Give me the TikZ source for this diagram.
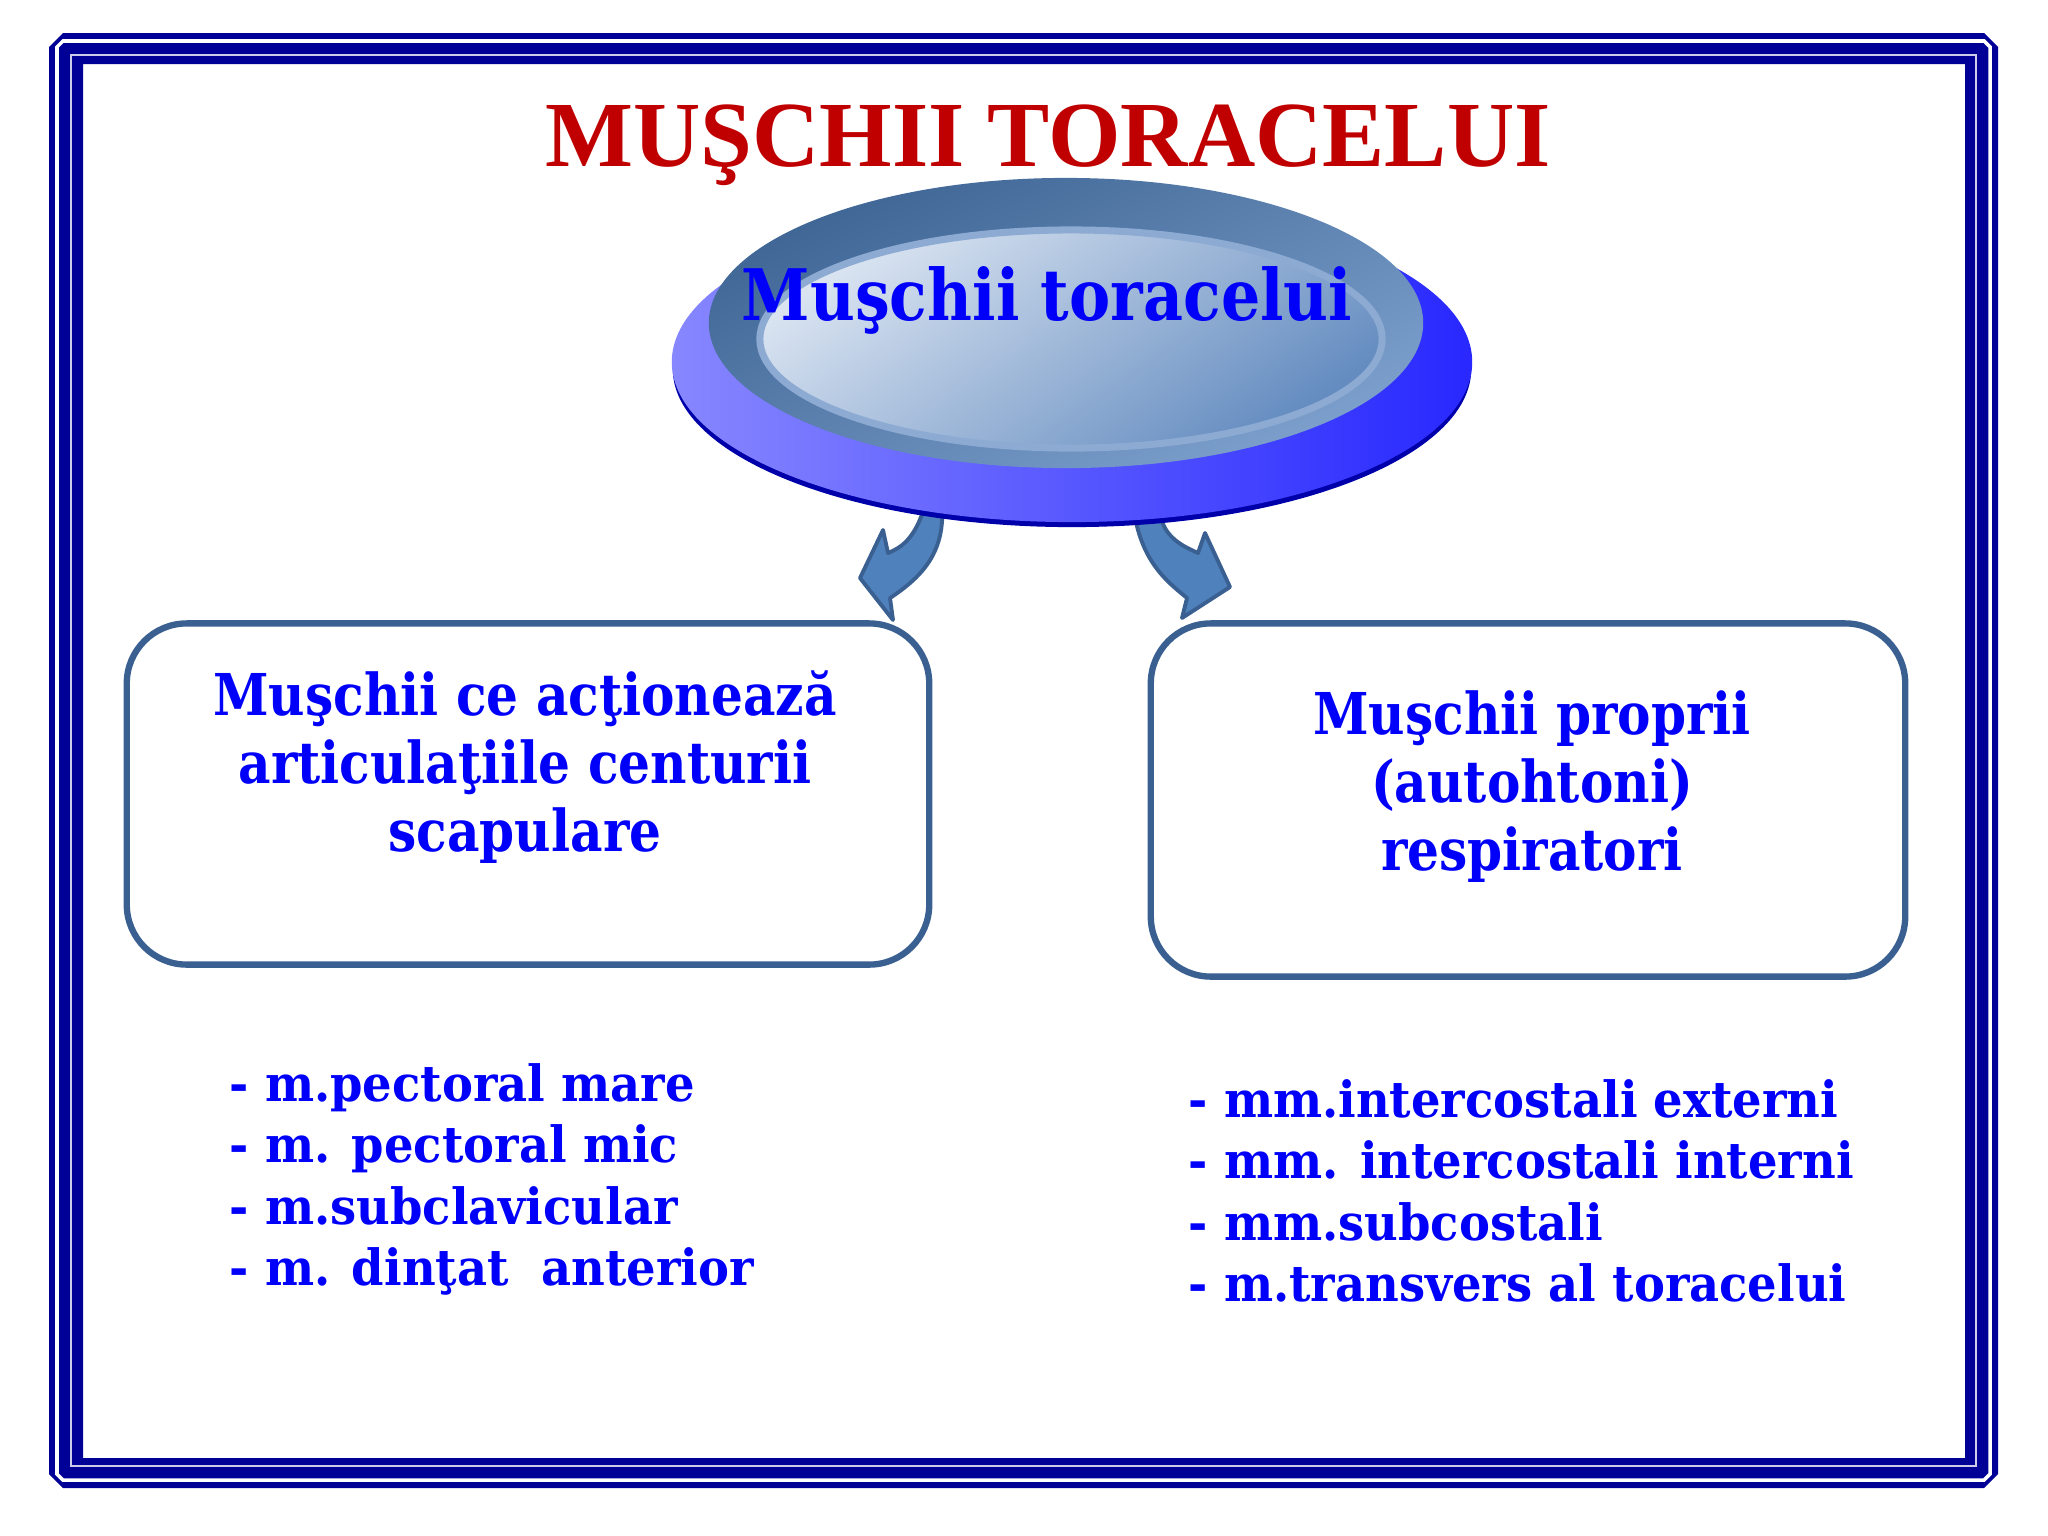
\documentclass[tikz,border=0pt]{standalone}
\usepackage{fontspec}
\setmainfont{DejaVu Serif}
\newfontfamily\titlefont{Liberation Serif}
\newfontfamily\headfont{DejaVu Serif}[FakeStretch=0.87]
\newfontfamily\listfont{DejaVu Serif}[FakeStretch=0.93]
\usetikzlibrary{shapes.geometric}

\definecolor{navy}{RGB}{0,0,150}
\definecolor{titlered}{RGB}{192,0,0}
\definecolor{textblue}{RGB}{0,0,250}
\definecolor{boxline}{RGB}{58,95,145}
\definecolor{arrowfill}{RGB}{79,129,189}
\definecolor{rimblue}{RGB}{0,0,170}
\definecolor{discleft}{RGB}{135,135,255}
\definecolor{discright}{RGB}{40,40,255}
\definecolor{rimtop}{RGB}{62,101,148}
\definecolor{rimbottom}{RGB}{125,160,205}
\definecolor{innerlight}{RGB}{218,228,241}
\definecolor{innerdark}{RGB}{100,140,192}
\definecolor{ringlight}{RGB}{140,170,210}

\begin{document}
\begin{tikzpicture}[x=0.01cm, y=-0.01cm,
    box/.style={draw=boxline, line width=1.8pt, rounded corners=0.6cm, fill=white},
    boxtext/.style={text=textblue, align=center, inner sep=0pt,
      font=\headfont\bfseries\fontsize{16.4pt}{19.35pt}\selectfont},
    listtext/.style={text=textblue, align=left, inner sep=0pt, anchor=north west,
      font=\listfont\bfseries\fontsize{14.2pt}{17.4pt}\selectfont},
    bendarrow/.style={fill=arrowfill, draw=boxline, line width=1.1pt, line join=round}]
      \useasboundingbox (0,0) rectangle (2048,1536);
      % double frame
      \fill[navy, even odd rule] (63,33) -- (1984,33) -- (1998,47) -- (1998,1474) -- (1984,1488)
            -- (63,1488) -- (49,1474) -- (49,47) -- cycle (83,64) rectangle (1965,1458);
      \draw[white, line width=1pt] (63,41) -- (1984,41) -- (1990,47) -- (1990,1474) -- (1984,1480)
            -- (63,1480) -- (57,1474) -- (57,47) -- cycle;
      \draw[white!80!navy, line width=0.6pt] (71,55) rectangle (1976,1466);

      \node[text=titlered, anchor=base, font=\titlefont\bfseries\fontsize{26.5pt}{30pt}\selectfont]
            (title) at (1048,166) {MUŞCHII TORACELUI};

      % curved arrows behind the disc
      \draw[bendarrow] (925,505) .. controls (915,540) and (900,548) .. (888,553) -- (883,530)
            -- (860,578) -- (893,620) -- (890,598) .. controls (925,575) and (945,550) .. (942,505) -- cycle;
      \draw[bendarrow] (1133,505) .. controls (1140,560) and (1165,580) .. (1187,598) -- (1182,618)
            -- (1230,587) -- (1205,533) -- (1198,553) .. controls (1180,545) and (1160,535) .. (1159,505) -- cycle;

      % disc
      \fill[rimblue] (1072,369) ellipse [x radius=3.99cm, y radius=1.58cm];
      \shade[left color=discleft, right color=discright] (1072,362) ellipse [x radius=4cm, y radius=1.6cm];
      \shade[top color=rimtop, bottom color=rimbottom, shading angle=25] (1066,323) ellipse [x radius=3.57cm, y radius=1.45cm];
      \shade[top color=innerlight, bottom color=innerdark, shading angle=35, draw=ringlight, line width=2pt]
            (1071,339) ellipse [x radius=3.11cm, y radius=1.09cm];
      \node[text=textblue, anchor=base, inner sep=0pt, font=\headfont\bfseries\fontsize{20.2pt}{24pt}\selectfont]
            (core) at (1047,320) {Muşchii toracelui};

      % the two groups
      \node[box, minimum width=8.02cm, minimum height=3.41cm] (lbox) at (528,794) {};
      \node[boxtext] (lhead) at (525,767) {Muşchii ce acţionează\\articulaţiile centurii\\scapulare};
      \node[box, minimum width=7.54cm, minimum height=3.53cm] (rbox) at (1528,800) {};
      \node[boxtext] (rhead) at (1532,787) {Muşchii proprii\\(autohtoni)\\respiratori};

      \node[listtext] (llist) at (229,1063) {- m.pectoral mare\\- m. pectoral mic\\- m.subclavicular\\- m. dinţat\ \ anterior};
      \node[listtext] (rlist) at (1188,1079) {- mm.intercostali externi\\- mm. intercostali interni\\- mm.subcostali\\- m.transvers al toracelui};
\end{tikzpicture}
\end{document}
